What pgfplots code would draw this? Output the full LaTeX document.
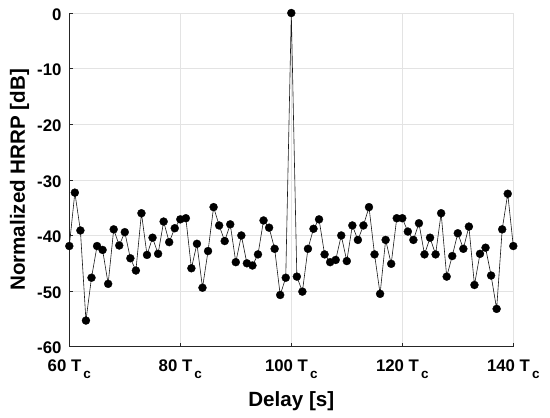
\documentclass[border=0pt]{standalone}
\usepackage{pgfplots}
\pgfplotsset{compat=1.18}
\usepackage{fontspec}
\setmainfont{Liberation Sans}
\newcommand{\Tc}{T\kern2pt\raisebox{-7pt}{\fontsize{13.5}{13.5}\selectfont c}}
\pgfplotstableread{
x y
60 -41.9
61 -32.3
62 -39.1
63 -55.3
64 -47.6
65 -41.9
66 -42.6
67 -48.7
68 -38.9
69 -41.8
70 -39.4
71 -44.1
72 -46.3
73 -36.0
74 -43.5
75 -40.4
76 -43.3
77 -37.5
78 -41.2
79 -38.7
80 -37.1
81 -36.9
82 -45.9
83 -41.5
84 -49.4
85 -42.8
86 -34.9
87 -38.2
88 -41.0
89 -38.0
90 -44.8
91 -40.0
92 -45.0
93 -45.4
94 -43.4
95 -37.3
96 -38.6
97 -42.4
98 -50.7
99 -47.6
100 0
101 -47.4
102 -50.1
103 -42.4
104 -38.8
105 -37.1
106 -43.4
107 -44.8
108 -44.4
109 -40.0
110 -44.6
111 -38.2
112 -40.8
113 -38.2
114 -34.9
115 -43.4
116 -50.5
117 -40.8
118 -45.1
119 -36.9
120 -36.9
121 -39.3
122 -40.8
123 -37.8
124 -43.4
125 -40.4
126 -43.4
127 -36.0
128 -47.4
129 -43.7
130 -39.6
131 -42.4
132 -38.4
133 -48.9
134 -43.3
135 -42.2
136 -47.2
137 -53.2
138 -38.9
139 -32.5
140 -41.9
}\hrrp
\begin{document}
\begin{tikzpicture}
\path[use as bounding box] (0,0) rectangle (550pt,418pt);
\begin{axis}[
  at={(69.3pt,71.3pt)}, anchor=south west,
  scale only axis, width=444pt, height=333.7pt,
  xmin=60, xmax=140, ymin=-60, ymax=0,
  axis lines=left,
  axis line style={-, draw=black!85, line width=0.6pt},
  every tick/.style={draw=black!85, line width=0.6pt},
  tick align=inside, major tick length=4pt,
  xtick={60,80,100,120,140},
  xticklabels={60 \Tc, 80 \Tc, 100 \Tc, 120 \Tc, 140 \Tc},
  ytick={-60,-50,-40,-30,-20,-10,0},
  yticklabels={-60,-50,-40,-30,-20,-10,0},
  grid=major,
  major grid style={black!11, line width=0.5pt},
  ticklabel style={font=\bfseries\fontsize{16.8}{19}\selectfont, inner sep=0pt},
  yticklabel style={anchor=east, xshift=-7.6pt, yshift=-1.5pt},
  xticklabel style={anchor=north, yshift=-13.3pt},
  label style={font=\bfseries\fontsize{20.6}{24}\selectfont},
  xlabel={Delay [s]},
  xlabel style={at={(axis description cs:0.5,0)}, anchor=base, yshift=-60pt},
  ylabel={Normalized HRRP [dB]},
  ylabel style={at={(axis description cs:-0.0998,0.5)}, anchor=base},
  clip=false,
]
\addplot[black!90, line width=0.6pt, mark=*, mark size=4pt, mark options={fill=black, draw=black, line width=0.3pt}] table[x=x,y=y] {\hrrp};
\end{axis}
\end{tikzpicture}
\end{document}
